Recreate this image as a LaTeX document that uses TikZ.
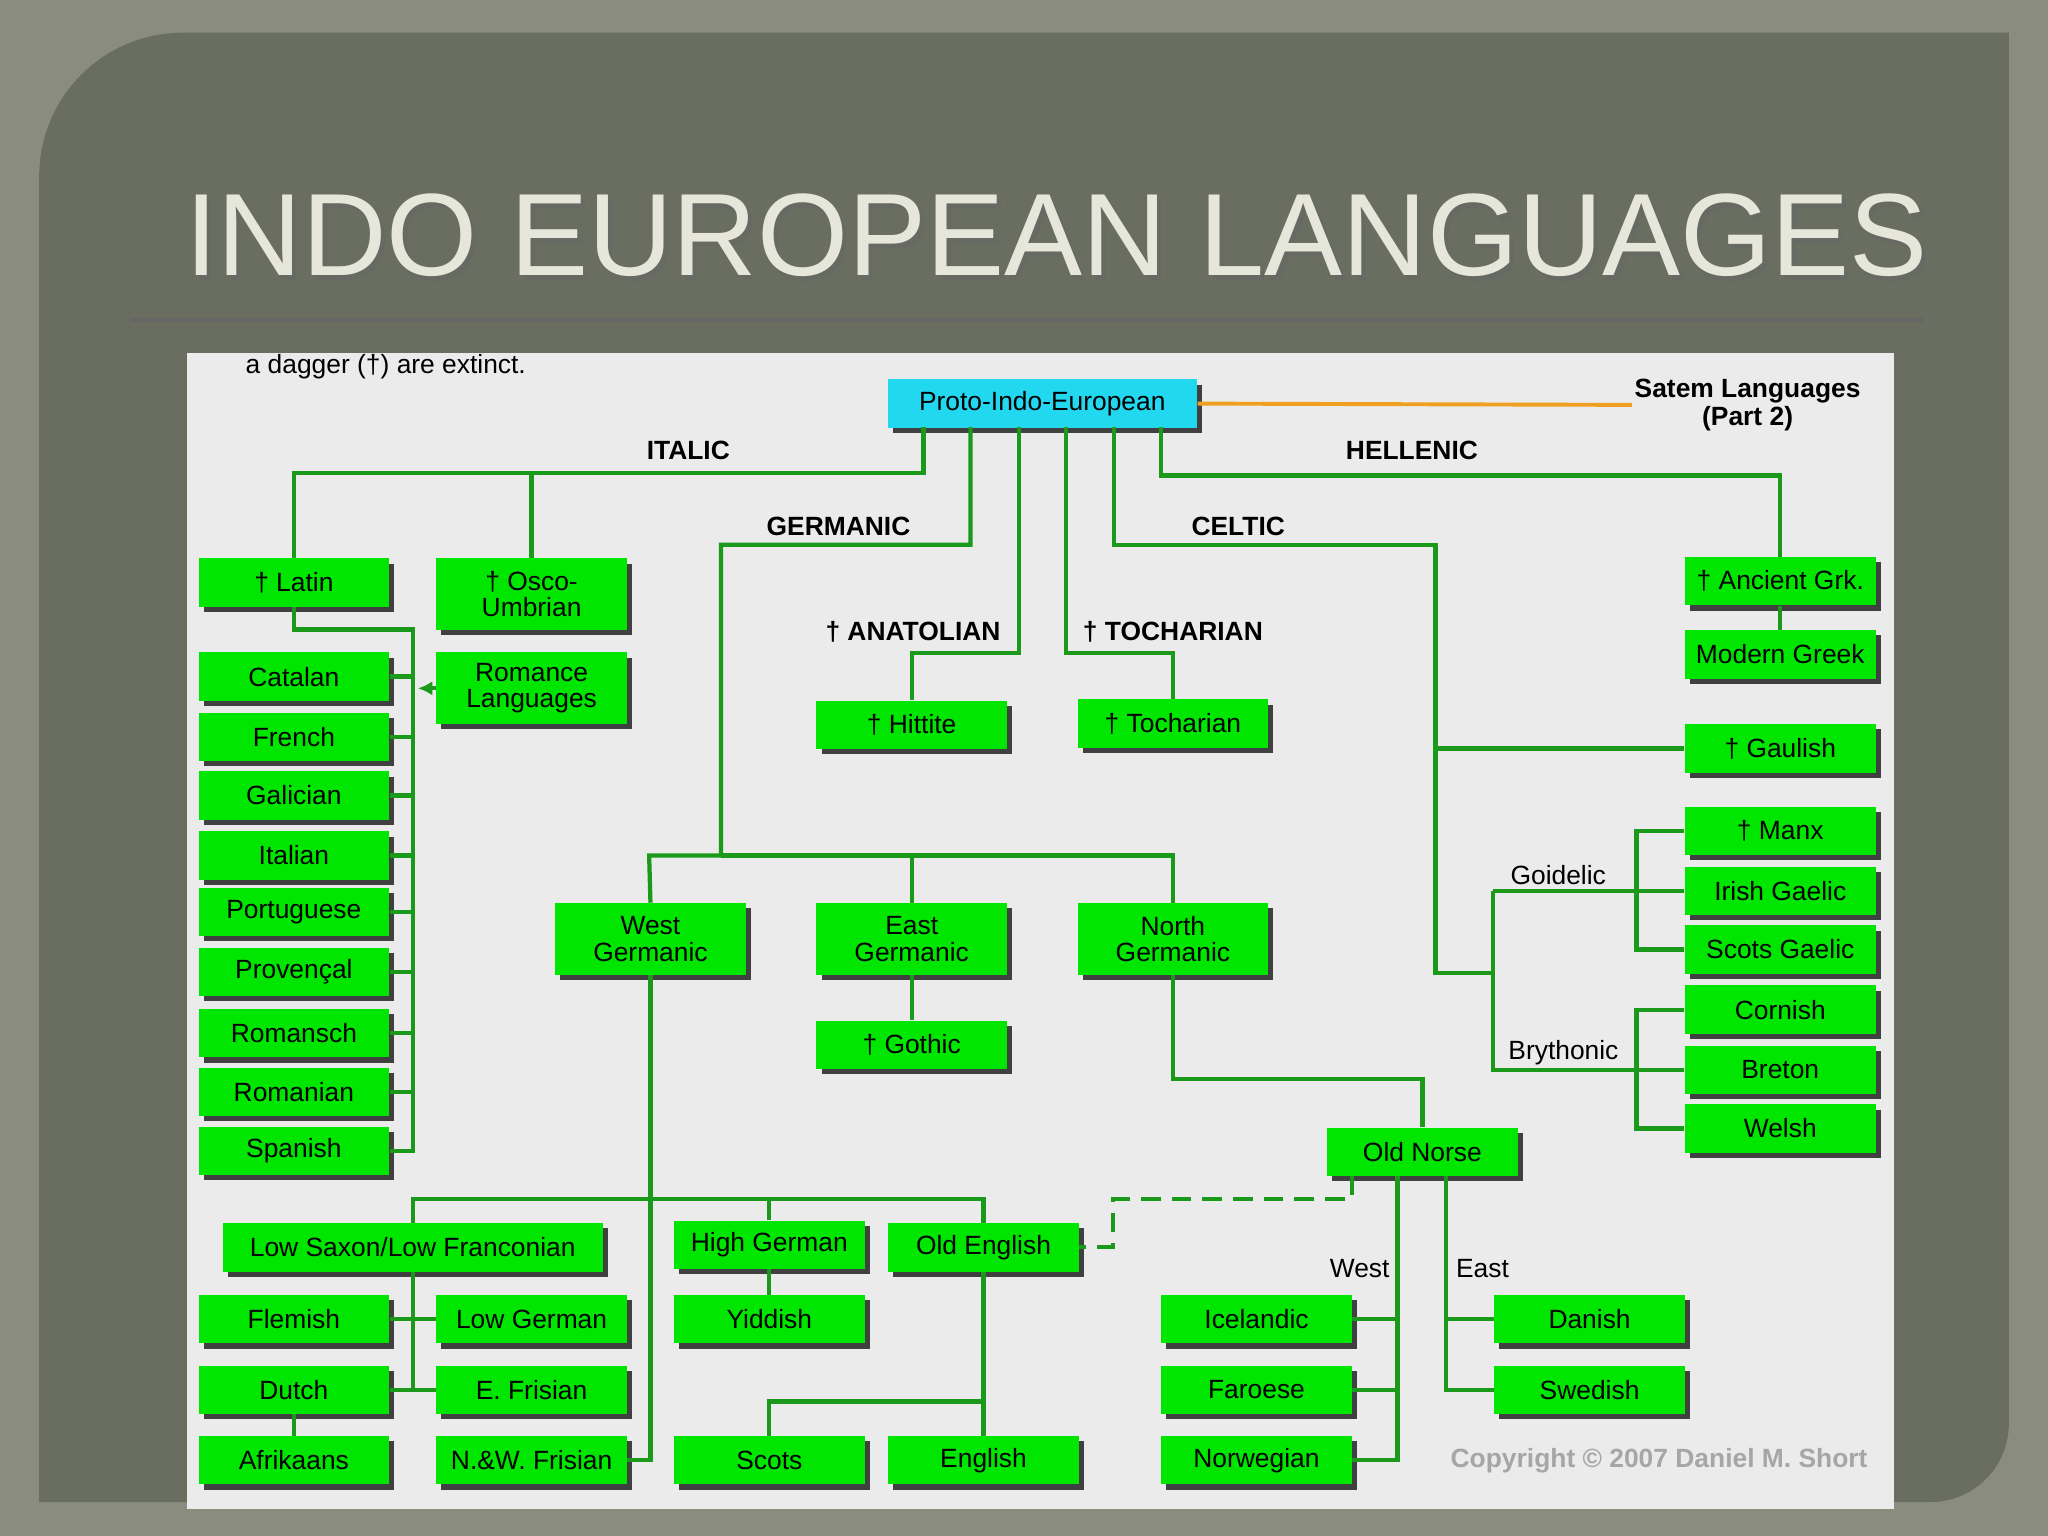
\documentclass[tikz,border=0pt]{standalone}
\usepackage{fontspec}
\setmainfont{Liberation Sans}
\usetikzlibrary{shadows,arrows.meta}
\definecolor{bggray}{HTML}{8A8D7E}
\definecolor{panel}{HTML}{6A6E60}
\definecolor{sheet}{HTML}{EBEBEB}
\definecolor{boxgreen}{HTML}{00E600}
\definecolor{linegreen}{HTML}{1A991A}
\definecolor{pie}{HTML}{22D8F0}
\definecolor{orangeln}{HTML}{F0A020}
\definecolor{titlec}{HTML}{E6E6DA}
\begin{document}
\begin{tikzpicture}[x=0.02cm,y=-0.02cm,
 box/.style={fill=boxgreen, minimum width=2.92cm, minimum height=0.74cm, inner sep=0pt, align=center,
   font=\fontsize{11.5}{11.5}\selectfont,
   drop shadow={shadow xshift=0.08cm, shadow yshift=-0.08cm, fill=black!75, opacity=1}},
 tall/.style={minimum height=1.1cm},
 ln/.style={draw=linegreen, line width=0.065cm},
 lab/.style={font=\bfseries\fontsize{11.5}{12}\selectfont, inner sep=1pt},
 sub/.style={font=\fontsize{11.5}{12}\selectfont, inner sep=1pt}]
\useasboundingbox (0,0) rectangle (1568,1176);
\fill[bggray] (0,0) rectangle (1568,1176);
\fill[panel] (30,1150) [rounded corners=2.2cm] -- (30,25) [sharp corners] -- (1538,25) [rounded corners=1.2cm] -- (1538,1150) [sharp corners] -- cycle;
\node[text=black!60, opacity=0.6, font=\fontsize{51}{55}\selectfont] (tshadow) at (812,184) {INDO EUROPEAN LANGUAGES};
\node[text=titlec, font=\fontsize{51}{55}\selectfont] (title) at (809,180) {INDO EUROPEAN LANGUAGES};
\draw[draw=black!60, line width=0.05cm] (100,245) -- (1473,245);
\fill[sheet] (143,270) rectangle (1450,1155);
\node[anchor=west, sub] (note) at (186,281) {a dagger (†) are extinct.};
\node[box, fill=pie, minimum width=4.74cm] (pie) at (798,309) {Proto-Indo-European};
\node[lab, align=center] (satem) at (1338,310) {Satem Languages\\(Part 2)};
\draw[draw=orangeln, line width=0.06cm] (pie.east) -- (satem.west);
\node[lab] (litalic) at (527,345) {ITALIC};
\node[lab] (lhell) at (1081,345) {HELLENIC};
\node[lab] (lgerm) at (642,403) {GERMANIC};
\node[lab] (lcelt) at (948,403) {CELTIC};
\node[lab] (lanat) at (699,484) {† ANATOLIAN};
\node[lab] (ltoch) at (898,484) {† TOCHARIAN};
\node[sub] (lgoid) at (1193,670) {Goidelic};
\node[sub] (lbry) at (1197,806) {Brythonic};
\node[sub] (lwest) at (1041,971) {West};
\node[sub] (least) at (1135,971) {East};
\node[anchor=east, text=black!35, font=\bfseries\fontsize{11.5}{12}\selectfont] (copy) at (1436,1118) {Copyright © 2007 Daniel M. Short};
\node[box] (latin) at (225,446) {† Latin};
\node[box,tall] (osco) at (407,455) {† Osco-\\Umbrian};
\node[box,tall] (rom) at (407,527) {Romance\\Languages};
\node[box] (cat) at (225,518) {Catalan};
\node[box] (fre) at (225,564) {French};
\node[box] (gal) at (225,609) {Galician};
\node[box] (ita) at (225,655) {Italian};
\node[box] (por) at (225,698) {Portuguese};
\node[box] (pro) at (225,744) {Provençal};
\node[box] (rsc) at (225,791) {Romansch};
\node[box] (rmn) at (225,836) {Romanian};
\node[box] (spa) at (225,881) {Spanish};
\node[box] (agrk) at (1363,445) {† Ancient Grk.};
\node[box] (mgrk) at (1363,501) {Modern Greek};
\node[box] (gaul) at (1363,573) {† Gaulish};
\node[box] (manx) at (1363,636) {† Manx};
\node[box] (irish) at (1363,682) {Irish Gaelic};
\node[box] (scotsg) at (1363,727) {Scots Gaelic};
\node[box] (corn) at (1363,773) {Cornish};
\node[box] (bret) at (1363,819) {Breton};
\node[box] (welsh) at (1363,864) {Welsh};
\node[box] (hitt) at (698,555) {† Hittite};
\node[box] (toch) at (898,554) {† Tocharian};
\node[box,tall] (wg) at (498,719) {West\\Germanic};
\node[box,tall] (eg) at (698,719) {East\\Germanic};
\node[box,tall] (ng) at (898,719) {North\\Germanic};
\node[box] (goth) at (698,800) {† Gothic};
\node[box] (onorse) at (1089,882) {Old Norse};
\node[box] (ice) at (962,1010) {Icelandic};
\node[box] (far) at (962,1064) {Faroese};
\node[box] (nor) at (962,1118) {Norwegian};
\node[box] (dan) at (1217,1010) {Danish};
\node[box] (swe) at (1217,1064) {Swedish};
\node[box, minimum width=5.82cm] (lsax) at (316,955) {Low Saxon/Low Franconian};
\node[box] (hg) at (589,953) {High German};
\node[box] (yid) at (589,1010) {Yiddish};
\node[box] (oe) at (753,955) {Old English};
\node[box] (scots) at (589,1118) {Scots};
\node[box] (eng) at (753,1118) {English};
\node[box] (fle) at (225,1010) {Flemish};
\node[box] (lg) at (407,1010) {Low German};
\node[box] (dut) at (225,1064) {Dutch};
\node[box] (efr) at (407,1064) {E. Frisian};
\node[box] (afr) at (225,1118) {Afrikaans};
\node[box] (nwf) at (407,1118) {N.\&W. Frisian};
\coordinate (pA) at (707,327);
\coordinate (pB) at (743,327);
\coordinate (pC) at (780,327);
\coordinate (pD) at (816,327);
\coordinate (pE) at (853,327);
\coordinate (pF) at (889,327);
\coordinate (lbar) at (316,0);
\coordinate (abar) at (320,0);
\draw[ln] (pA) |- (225,362) -- (latin.north);
\draw[ln] (407,362) -- (osco.north);
\draw[ln] (pB) |- (552,417) |- (497,655) -- (wg.north);
\draw[ln] (552,655) -| (ng.north);
\draw[ln] (698,655) -- (eg.north);
\draw[ln] (eg.south) -- (goth.north);
\draw[ln] (pC) |- (698,500) -- (hitt.north);
\draw[ln] (pD) |- (898,500) -- (toch.north);
\draw[ln] (pE) |- (1099,417) |- (1143,745);
\draw[ln] (1099,573) -- (gaul.west);
\draw[ln] (1143,682) -- (irish.west);
\draw[ln] (1143,682) -- (1143,819) -- (bret.west);
\draw[ln] (manx.west) -| (1253,727) -- (scotsg.west);
\draw[ln] (corn.west) -| (1253,864) -- (welsh.west);
\draw[ln] (pF) |- (1363,364) -- (agrk.north);
\draw[ln] (agrk.south) -- (mgrk.north);
\draw[ln] (latin.south) |- (316,482) |- (spa.east);
\draw[ln] (cat.east) -- (cat.east -| lbar);
\draw[ln] (fre.east) -- (fre.east -| lbar);
\draw[ln] (gal.east) -- (gal.east -| lbar);
\draw[ln] (ita.east) -- (ita.east -| lbar);
\draw[ln] (por.east) -- (por.east -| lbar);
\draw[ln] (pro.east) -- (pro.east -| lbar);
\draw[ln] (rsc.east) -- (rsc.east -| lbar);
\draw[ln] (rmn.east) -- (rmn.east -| lbar);
\draw[draw=linegreen, line width=0.065cm, -{Latex[length=0.22cm,width=0.22cm]}] (rom.west) -- (rom.west -| abar);
\draw[ln] (ng.south) |- (1089,826) -- (onorse.north);
\draw[ln] (1070,900) |- (nor.east);
\draw[ln] (ice.east) -- (1070,1010);
\draw[ln] (far.east) -- (1070,1064);
\draw[ln] (1107,900) |- (swe.west);
\draw[ln] (dan.west) -- (1107,1010);
\draw[ln, dash pattern=on 0.3cm off 0.17cm] (1035,900) |- (852,918) |- (oe.east);
\draw[ln] (wg.south) |- (nwf.east);
\draw[ln] (lsax.north) |- (753,918) -- (oe.north);
\draw[ln] (589,918) -- (hg.north);
\draw[ln] (hg.south) -- (yid.north);
\draw[ln] (oe.south) -- (eng.north);
\draw[ln] (scots.north) |- (753,1073);
\draw[ln] (lsax.south) |- (efr.west);
\draw[ln] (fle.east) -- (lg.west);
\draw[ln] (dut.east) -- (316,1064);
\draw[ln] (dut.south) -- (afr.north);
\end{tikzpicture}
\end{document}
